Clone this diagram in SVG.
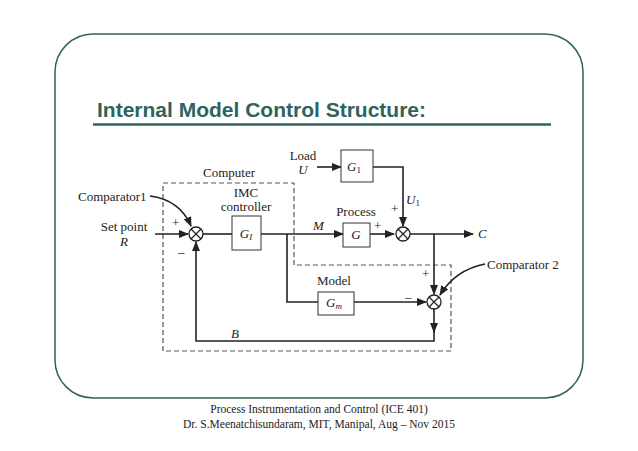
<svg xmlns="http://www.w3.org/2000/svg" width="638" height="451" viewBox="0 0 638 451">
<defs>
<marker id="ah" markerWidth="10" markerHeight="8" refX="9" refY="4" orient="auto" markerUnits="userSpaceOnUse"><path d="M0,0 L10,4 L0,8 z" fill="#222"/></marker>
<style>
.ln{fill:none;stroke:#222;stroke-width:1.6}
.bx{fill:#fff;stroke:#333;stroke-width:1}
.ds{fill:none;stroke:#555;stroke-width:1.2;stroke-dasharray:5,3}
.t{font-family:"Liberation Serif",serif;font-size:13px;fill:#222}
.i{font-style:italic}
</style>
</defs>
<rect x="55" y="34" width="528" height="364" rx="38" fill="#fff" stroke="#2e6360" stroke-width="1.5"/>
<text x="97" y="117" font-family="Liberation Sans,Arial,sans-serif" font-weight="bold" font-size="21" fill="#2e6360">Internal Model Control Structure:</text>
<line x1="93" y1="124.5" x2="551" y2="124.5" stroke="#2e6360" stroke-width="2.5"/>
<path class="ds" d="M163,183 H294 V265 H451 V351 H163 Z"/>
<g id="connectors">
<path class="ln" d="M155,234 H188" marker-end="url(#ah)"/>
<path class="ln" d="M203,234 H232"/>
<path class="ln" d="M261,234 H343" marker-end="url(#ah)"/>
<path class="ln" d="M370,234 H394" marker-end="url(#ah)"/>
<path class="ln" d="M409,234 H473" marker-end="url(#ah)"/>
<path class="ln" d="M317,167 H341" marker-end="url(#ah)"/>
<path class="ln" d="M373,167 H403 V226" marker-end="url(#ah)"/>
<path class="ln" d="M434,234 V294" marker-end="url(#ah)"/>
<path class="ln" d="M287,234 V302 H318"/>
<path class="ln" d="M354,302 H426" marker-end="url(#ah)"/>
<path class="ln" d="M434,309 V332" marker-end="url(#ah)"/>
<path class="ln" d="M434,330 V341 H196 V242" marker-end="url(#ah)"/>
<path class="ln" d="M150,196 Q180,200 191,226" stroke-width="1" marker-end="url(#ah)"/>
<path class="ln" d="M485,264 Q455,270 440,295" stroke-width="1" marker-end="url(#ah)"/>
</g>
<g id="comp1"><circle cx="196" cy="234" r="7" fill="#fff" stroke="#222" stroke-width="1.3"/><path d="M191,229 L201,239 M201,229 L191,239" stroke="#222" stroke-width="1.2"/></g>
<g id="sum2"><circle cx="403" cy="234" r="7" fill="#fff" stroke="#222" stroke-width="1.3"/><path d="M398,229 L408,239 M408,229 L398,239" stroke="#222" stroke-width="1.2"/></g>
<g id="comp2"><circle cx="434" cy="302" r="7" fill="#fff" stroke="#222" stroke-width="1.3"/><path d="M429,297 L439,307 M439,297 L429,307" stroke="#222" stroke-width="1.2"/></g>
<g id="gi"><rect class="bx" x="232" y="216" width="29" height="34"/><text class="t i" x="246" y="238" text-anchor="middle">G<tspan font-size="9" dy="2">I</tspan></text></g>
<g id="g"><rect class="bx" x="343" y="223" width="27" height="24"/><text class="t i" x="356" y="239" text-anchor="middle">G</text></g>
<g id="g1"><rect class="bx" x="341" y="150" width="32" height="32"/><text class="t i" x="354" y="171" text-anchor="middle">G<tspan font-size="9" dy="2" font-style="normal">1</tspan></text></g>
<g id="gm"><rect class="bx" x="318" y="292" width="36" height="23"/><text class="t i" x="334" y="307" text-anchor="middle">G<tspan font-size="9" dy="2">m</tspan></text></g>
<g id="labels">
<text class="t" x="78" y="201">Comparator1</text>
<text class="t" x="124" y="231" text-anchor="middle">Set point</text>
<text class="t i" x="124" y="246" text-anchor="middle">R</text>
<text class="t" x="229" y="177" text-anchor="middle">Computer</text>
<text class="t" x="246" y="197" text-anchor="middle">IMC</text>
<text class="t" x="246" y="211" text-anchor="middle">controller</text>
<text class="t" x="303" y="160" text-anchor="middle">Load</text>
<text class="t i" x="303" y="174" text-anchor="middle">U</text>
<text class="t i" x="406" y="204">U<tspan font-size="9" dy="2" font-style="normal">1</tspan></text>
<text class="t" x="356" y="216" text-anchor="middle">Process</text>
<text class="t i" x="313" y="230">M</text>
<text class="t i" x="478" y="238">C</text>
<text class="t" x="334" y="285" text-anchor="middle">Model</text>
<text class="t i" x="231" y="338">B</text>
<text class="t" x="487" y="269">Comparator 2</text>
<text class="t" x="172" y="227">+</text>
<text class="t" x="178" y="256">–</text>
<text class="t" x="374" y="230">+</text>
<text class="t" x="391" y="213">+</text>
<text class="t" x="422" y="278">+</text>
<text class="t" x="405" y="301">–</text>
</g>
<text x="319" y="413" text-anchor="middle" font-family="Liberation Serif,serif" font-size="11.5" fill="#222">Process Instrumentation and Control (ICE 401)</text>
<text x="319" y="428" text-anchor="middle" font-family="Liberation Serif,serif" font-size="11.5" fill="#222">Dr. S.Meenatchisundaram, MIT, Manipal, Aug – Nov 2015</text>
</svg>
